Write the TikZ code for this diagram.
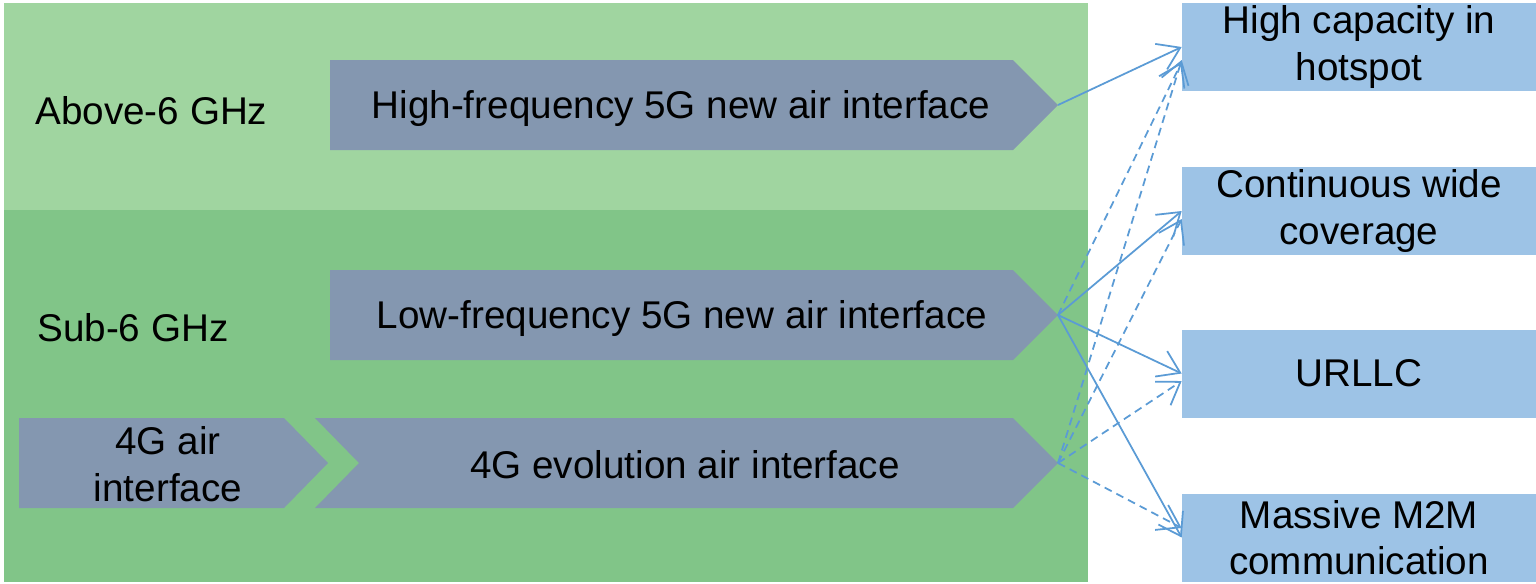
\documentclass[tikz,border=0pt]{standalone}
\usepackage{fontspec}
\setmainfont{Liberation Sans}
\usetikzlibrary{arrows.meta}
\definecolor{abovegreen}{RGB}{160,213,160}
\definecolor{subgreen}{RGB}{129,197,136}
\definecolor{slate}{RGB}{132,151,176}
\definecolor{skyblue}{RGB}{157,195,230}
\definecolor{linkblue}{RGB}{91,155,213}

\begin{document}
\begin{tikzpicture}[x = 0.02cm, y = -0.02cm,
                        label/.style = {font = \fontsize{22}{26.5}\selectfont, align = center, inner sep = 0pt},
                        target/.style = {label, fill = skyblue, minimum width = 7.08cm, minimum height = 1.76cm},
                        link/.style = {draw = linkblue, line width = 1pt, -{Straight Barb[length = 12pt, width = 16pt]}},
                        maybe/.style = {link, dash pattern = on 4.5pt off 3pt}]
        \useasboundingbox (0,0) rectangle (1536,583);

        \fill [abovegreen] (4,3) rectangle (1088,210);
        \fill [subgreen] (4,210) rectangle (1088,582);

        \fill [slate] (330,60) -- (1013,60) -- (1058,105) -- (1013,150) -- (330,150) -- cycle;
        \fill [slate] (330,270) -- (1013,270) -- (1058,315) -- (1013,360) -- (330,360) -- cycle;
        \fill [slate] (315,418) -- (1013,418) -- (1058,463) -- (1013,508) -- (315,508) -- (359,463) -- cycle;
        \fill [slate] (19,418) -- (284,418) -- (328,463) -- (284,508) -- (19,508) -- cycle;

        \coordinate (hftip) at (1058,105);
        \coordinate (lftip) at (1058,315);
        \coordinate (evotip) at (1058,463);

        \node [label, anchor = west] (above) at (35,111) {Above-6 GHz};
        \node [label, anchor = west] (sub) at (37,328) {Sub-6 GHz};
        \node [label] (hf) at (681,108) {High-frequency 5G new air interface};
        \node [label] (lf) at (682,318) {Low-frequency 5G new air interface};
        \node [label] (evo) at (685,465) {4G evolution air interface};
        \node [label] (air) at (168,464) {4G air\\interface};

        \node [target] (hotspot) at (1359,47) {High capacity in\\hotspot};
        \node [target] (coverage) at (1359,211) {Continuous wide\\coverage};
        \node [target] (urllc) at (1359,373.5) {URLLC};
        \node [target] (mtc) at (1359,537.5) {Massive M2M\\communication};

        \draw [link] (hftip) -- (hotspot.west);
        \draw [link] (lftip) -- (coverage.west);
        \draw [link] (lftip) -- (urllc.west);
        \draw [link] (lftip) -- (mtc.west);
        \draw [maybe] (lftip) -- ([yshift = -0.3cm]hotspot.west);
        \draw [maybe] (evotip) -- ([yshift = -0.26cm]hotspot.west);
        \draw [maybe] (evotip) -- ([yshift = -0.16cm]coverage.west);
        \draw [maybe] (evotip) -- ([yshift = -0.15cm]urllc.west);
        \draw [maybe] (evotip) -- ([yshift = 0.19cm]mtc.west);
\end{tikzpicture}
\end{document}
